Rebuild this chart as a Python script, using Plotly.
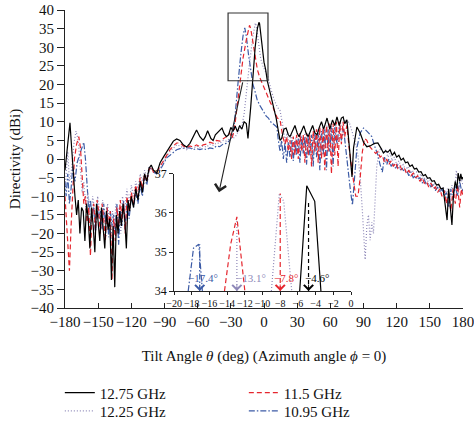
import plotly.graph_objects as go

# ---------------- data ----------------
series_names = ["12.75 GHz", "11.5 GHz", "12.25 GHz", "10.95 GHz"]

theta_1275 = [-180, -179, -177.5, -175.5, -174, -172.5, -171, -169.5, -168, -166.5, -165, -163.5, -162, -160.5,
              -159, -157.5, -156, -154.5, -153, -151.5, -150, -148.5, -147, -145.5, -144, -142.5, -141, -139.5,
              -138, -136.5, -135, -133.5, -132, -130.5, -129, -127.5, -126, -124.5, -123, -121.5, -120, -118,
              -116, -114, -112, -110, -108, -106, -104, -102, -100, -97, -94, -91, -88, -85, -82, -79, -76, -73,
              -70, -67, -64, -61, -58, -55, -53, -51, -48, -46, -44, -41, -38, -36, -34, -32, -30, -28, -26, -24,
              -22, -20, -18, -16, -14.5, -12, -10, -8, -6, -4.6, -4, -3, -1.5, 0, 1.5, 3, 5, 7, 9, 11, 13, 14.5,
              16, 18, 20, 22, 23.5, 25.5, 28, 30, 31.7, 34, 36, 38, 40, 42, 44, 46, 48, 50, 52, 54, 57, 59.5, 62,
              64, 66, 68, 70, 71.6, 73, 75, 77, 79.6, 81, 84, 87, 90, 93, 96, 100, 103, 106, 108, 110, 112, 114,
              116, 118, 120, 122, 124, 126, 128, 130, 132, 134, 136, 138, 140, 142, 144, 146, 148, 150, 152, 154,
              156, 158, 160, 162, 164, 165.6, 167, 168.5, 170, 171.5, 173, 174.5, 175.6, 177, 178, 179, 180]
dir_1275 = [-3, 0, 4, 9.7, 3, -5, -10, -15, -11, -20, -13, -14, -22, -12,
            -16, -24, -13, -18, -25, -12, -17, -22, -13, -20, -24, -14, -19, -16,
            -32.5, -18, -34.4, -15, -20, -14, -18, -12, -16, -24, -11, -14, -10, -13,
            -8, -11, -6, -9, -4, -6, -2.5, -1.6, -3, -3.8, -1, 0.5, 2, 3.2, 4.8, 5.4, 5, 3.8,
            3.2, 4.2, 5.8, 7.8, 6, 5, 6, 7.6, 5.5, 5, 6.5, 7.5, 8.3, 6.8, 6, 6.5, 8.5, 7.5, 8.8, 7.3,
            9, 8, 10, 9.5, 5.5, 14, 22, 30, 35, 36.7, 36.3, 34, 29, 26, 24, 21, 18.5, 16, 14, 11, 7.5, 5,
            5.5, 8, 8.3, 6.5, 6, 7.5, 9, 7, 6, 7.5, 8.9, 7, 6, 7.5, 9, 7, 6.5, 8.5, 10, 8, 11, 8, 10.5,
            9, 11.3, 9, 11, 11.3, 9.5, 10.5, 4, -4.8, 3, 8.6, 7, 4.5, 3.3, 3.5, 4.2, 4.3, 2.8, 1.6, 2.2, 1.8, 2.5,
            1, 1.8, 0.5, 1, -0.3, 0.2, -1, -0.8, -2, -1.6, -2.7, -2.5, -3.5, -3.4, -4.5, -4.2, -5.2, -5, -6, -5.8,
            -7, -6.8, -8, -7.8, -12, -16.4, -8, -12, -17.7, -9, -6, -8, -3.8, -6, -4, -5.5, -4.8]

theta_1150 = [-180, -179, -177.5, -176, -174.5, -173, -171.5, -169.5, -167.5, -166, -164.5, -163, -161.5, -160,
              -158.5, -157, -155.5, -154, -152.5, -151, -149.5, -148, -146.5, -145, -143.5, -142, -140.5, -139,
              -137.5, -136, -134.5, -133, -131.5, -130, -128.5, -127, -125.5, -124, -122, -120, -118, -116, -114,
              -112, -110, -108, -106, -104, -102, -100, -97, -94, -91, -88, -85, -82, -79, -76, -73, -70, -67,
              -64, -61, -58, -55, -52, -49, -46, -43, -40, -37, -34, -31, -29, -27, -25, -22, -19, -16, -14,
              -13.1, -12, -10, -8, -6, -4, -2, 0, 2, 4, 6, 8, 10, 12, 14.5, 16, 17, 19, 20.5, 22, 23.5, 25,
              26.5, 28, 29.5, 31, 32.5, 34, 35.5, 37, 38.5, 40, 41.5, 43, 44.5, 46, 47.5, 49, 50.5, 52, 53.5,
              55, 56.5, 58, 59.5, 61, 62.5, 64, 65.5, 67, 68.5, 70, 71.5, 73, 75, 77, 79, 81, 83, 85, 87, 89,
              91, 93, 95, 98, 101, 103, 105, 107, 109, 111, 113, 115, 117, 119, 121, 123, 125, 127, 129, 131,
              133, 135, 137, 139, 141, 143, 145, 147, 149, 151, 153, 155, 157, 159, 161, 163, 165, 167, 169,
              171, 173, 175, 177, 178.5, 180]
dir_1150 = [-10, -16, -25, -30, -18, -8, 0, 4, 6, 3, -6, -12, -10, -17,
            -13, -26, -14, -12, -19, -11, -14, -20, -12, -16, -22, -13, -18, -14,
            -32.5, -16, -22, -13, -18, -11, -16, -12, -20, -10, -14, -9, -12, -7, -10,
            -5, -8, -4, -6, -2.8, -2, -3.5, -3.5, -2, -0.5, 1, 2.5, 3.5, 4.3, 4.3, 3.5, 3, 3.5,
            3.2, 3.8, 3.3, 3.8, 4, 4.5, 4.2, 5, 4.8, 5.5, 6, 7, 5.5, 7.5, 12, 20, 27, 32, 35.3,
            35.9, 35, 31, 27, 24, 22, 20.5, 19.5, 18, 16.5, 15, 14, 12.5, 11, 10.5, 8, 6, 4, 6, 2, 5, 0,
            6, 1, 6.5, 0, 7, 2, 6.5, -1, 7, 1, 6.5, -2, 7.5, 2, 8, -1, 8.5, 0, 8.5,
            -3, 9, 2, 9.5, -4, 9.5, 1, 10, -2, 10, 4, 10, 6, 9, 3, -2, -6, -10, -10, -5, 2,
            5.5, 5, 3.5, 2.4, 1.5, 2, 0.5, 1, -1, 0, -1.5, -0.5, -2, -1, -2.5, -1.8, -3, -2.5, -4, -3,
            -4.5, -3.8, -5, -4.5, -6, -5, -6.5, -6, -7.5, -6.5, -8, -7.5, -9, -8, -10, -8.5, -12, -9, -14,
            -8, -12, -7, -13, -8, -10]

theta_1225 = [-180, -179, -177.5, -176, -174.5, -172, -170, -168, -166, -164.5, -163, -161, -159.5, -158,
              -156.5, -155, -153.5, -152, -150.5, -149, -147.5, -146, -144.5, -143, -141.5, -140, -138.5, -137,
              -135.5, -134, -132.5, -131, -129.5, -128, -126, -124, -122, -120, -118, -116, -114, -112, -110,
              -108, -106, -104, -102, -100, -97, -94, -91, -88, -85, -82, -79, -76, -73, -70, -67, -64, -61,
              -58, -55, -52, -49, -46, -43, -40, -37, -34, -31, -28, -26, -24, -22, -20, -18, -16, -13, -10,
              -8.5, -7.8, -7, -5, -3, -1, 1, 3.6, 6, 9, 12, 14.5, 17, 19, 21, 23, 25, 27, 29, 31, 33, 35, 37,
              39, 41, 43, 45, 47, 49, 51, 53, 55, 57, 59, 61, 63, 65, 67, 69, 71, 73, 75, 77, 79, 81, 83, 85,
              87, 89, 90.5, 91.5, 93, 94.5, 96, 97.5, 99, 100.5, 102, 104, 106, 108, 110, 112, 114, 116, 118,
              120, 122, 124, 126, 128, 130, 132, 134, 136, 138, 140, 142, 144, 146, 148, 150, 152, 154, 156,
              158, 160, 162, 164, 166, 168, 170, 172, 174, 176, 178, 180]
dir_1225 = [-8, -3, 2, -6, -4, 4, 7.5, 5, -2, -9, -6, -14, -9, -12,
            -18, -10, -13, -19, -10, -13, -18, -11, -15, -21, -12, -16, -22, -14,
            -19, -12, -17, -13, -20, -10, -14, -8, -12, -7, -10, -6, -8, -4, -6,
            -3, -5, -2, -2, -3, -3.5, -2.5, -1, 0.8, 2, 3, 3.8, 3.5, 3, 2.5, 3, 2.8, 3.5,
            3, 3.5, 3.2, 4, 3.7, 4.3, 4.2, 5, 4.8, 5.5, 5.5, 6, 7, 8, 9, 12, 18, 26, 33,
            36, 36.5, 35.8, 31, 27, 25, 23.5, 22, 19, 16, 14, 13, 9, 5, 7, 3, 6.5, 2, 6, 1.5, 6.5, 2, 7,
            2.5, 7, 1.5, 7.5, 2.5, 8, 2, 8.5, 3, 9, 2, 9, 3, 9.5, 4, 10, 7, 10.5, 9.5, 10, 8, 6, 4, 1,
            -5, -14, -22, -27, -18, -15, -21.8, -17, -20, -9, -2, 2, 3, 1.5, 2.5, 0.5, 1.5, -0.5, 0.5,
            -1.5, -0.5, -2, -1.5, -3, -2, -3.5, -3, -4, -3.5, -5, -4, -5.5, -5, -6, -5.5, -7, -6.5, -7.5,
            -7, -8.5, -7.5, -9, -8, -11, -7, -10, -3, -9, -5, -7]

theta_1095 = [-180, -179, -177.5, -176, -174.5, -173, -171, -169, -167, -165, -163, -161.5, -160, -158.5,
              -157, -155.5, -154, -152.5, -151, -149.5, -148, -146.5, -145, -143.5, -142, -140.5, -139, -137.5,
              -136, -134.5, -133, -131.5, -130, -128.5, -127, -125.5, -124, -122, -120, -118, -116, -114, -112,
              -110, -108, -106, -104, -102, -100, -97, -94, -91, -88, -85, -82, -79, -76, -73, -70, -67, -64,
              -61, -58, -55, -52, -49, -46, -43, -40, -37, -34, -31, -29, -27, -26, -23.5, -21, -19, -17.4,
              -16, -14, -12, -10, -8, -6.3, -4, -2, 0, 2, 4, 6, 8, 10, 11.6, 13, 14.5, 16, 17.5, 19, 20.5, 22,
              23.5, 25, 26.5, 28, 29.5, 31, 32.5, 34, 35.5, 37, 38.5, 40, 41.5, 43, 44.5, 46, 47.5, 49, 50.5,
              52, 53.5, 55, 56.5, 58, 59.5, 61, 62.5, 64, 66, 68, 70, 72, 74, 76, 78, 80, 82, 84, 87, 90, 93,
              97.5, 100, 103, 105, 107, 109, 111, 113, 115, 117, 119, 121, 123, 125, 127, 129, 131, 133, 135,
              137, 139, 141, 143, 145, 147, 149, 151, 153, 155, 157, 159, 161, 163, 165, 167, 169, 171, 173,
              175, 177, 179, 180]
dir_1095 = [-6, -10, -4, -12, -8, -2, -6, -1, 1, 3, 4.5, 0, -8, -14,
            -11, -16, -13, -20, -12, -16, -14, -19, -12, -17, -13, -21, -14, -18,
            -15, -20, -12, -23, -14, -18, -11, -19, -12, -16, -10, -13, -9, -12, -7,
            -10, -5, -7, -3, -2.2, -3.5, -4, -3, -1.5, 0.3, 1, 1.8, 2.5, 2.8, 3, 3, 3, 2.5,
            2.8, 2.5, 2.8, 2.5, 3, 2.8, 3.5, 3.3, 4, 4.2, 5, 6, 9, 13, 20.4, 28, 33, 35.2,
            33, 28, 24, 20, 18, 16, 14.5, 13.5, 12.5, 11.5, 11, 10, 9.5, 9, 8.6, 5, 2, 5, 0, 4.5, -1, 4.5,
            0.5, 5, -0.5, 5, 1, 5.5, -1, 6, 1.5, 6, -1.5, 6.5, 1, 6.5, -2, 7, 0.5, 7, -3,
            7.5, 1, 8, -3, 8, 2, 8.5, -2, 8.5, 4, 8.5, 5, 8, 2, -2, -8, -12.4, -5, 3, 7, 8.3, 7.5,
            6, 3.5, 1, -1.5, -3.5, 0.5, -1.5, 0, -2, -1, -2.5, -1.5, -3, -2.5, -3.5, -3, -4.5, -3.5, -5,
            -4.5, -5.5, -5, -6.5, -5.5, -7, -6.5, -7.5, -7, -8.5, -7.5, -9, -8, -10, -9, -13, -8, -11, -7,
            -10, -6, -9, -8]

# inset (zoom of the main-beam peaks)
inset_theta_1275 = [-5.8, -5.0, -4.1, -3.4]
inset_dir_1275 = [34.0, 36.7, 36.3, 34.0]
inset_theta_1150 = [-14.3, -13.6, -12.9, -12.0]
inset_dir_1150 = [34.0, 35.2, 35.9, 34.0]
inset_theta_1225 = [-9.0, -8.1, -7.6, -6.7]
inset_dir_1225 = [34.0, 36.5, 36.3, 34.0]
inset_theta_1095 = [-18.4, -17.8, -17.2, -16.8]
inset_dir_1095 = [34.0, 35.1, 35.2, 34.0]

peak_theta = [-4.8, -8.0, -12.9, -17.1]
peak_level = [36.3, 36.5, 35.8, 35.2]
peak_labels = ["−4.6°", "−7.8°", "−13.1°", "−17.4°"]
label_theta = [-3.8, -7.3, -11.3, -16.7]

x_ticks = [-180, -150, -120, -90, -60, -30, 0, 30, 60, 90, 120, 150, 180]
y_ticks = list(range(-40, 41, 5))
inset_x_ticks = list(range(-20, 1, 2))
inset_y_ticks = [34, 35, 36, 37]

# ---------------- styles ----------------
colors = ["#000000", "#e5262e", "#8e88b8", "#3c5ba6"]
dashes = ["solid", "5px,3px", "1px,2px", "6px,2px,1.5px,2px"]
legend_ids = ["legend", "legend", "legend2", "legend2"]
FONT = "Liberation Serif, Times New Roman, serif"

main_data = [(theta_1275, dir_1275), (theta_1150, dir_1150), (theta_1225, dir_1225), (theta_1095, dir_1095)]
inset_data = [(inset_theta_1275, inset_dir_1275), (inset_theta_1150, inset_dir_1150),
              (inset_theta_1225, inset_dir_1225), (inset_theta_1095, inset_dir_1095)]

fig = go.Figure()
draw_order = [3, 2, 1, 0]
for i in draw_order:
    th, d = main_data[i]
    fig.add_trace(go.Scatter(x=th, y=d, mode="lines", name=series_names[i], legendrank=i + 1,
                             legend=legend_ids[i],
                             line=dict(color=colors[i], width=1.2, dash=dashes[i])))
for i in draw_order:
    th, d = inset_data[i]
    fig.add_trace(go.Scatter(x=th, y=d, mode="lines", showlegend=False, xaxis="x2", yaxis="y2",
                             line=dict(color=colors[i], width=1.2, dash=dashes[i])))
    vdash = "4px,3px" if i == 0 else dashes[i]
    fig.add_trace(go.Scatter(x=[peak_theta[i], peak_theta[i]], y=[34, peak_level[i]], mode="lines",
                             showlegend=False, xaxis="x2", yaxis="y2",
                             line=dict(color=colors[i], width=1.2, dash=vdash)))

annotations = []
for i in range(4):
    annotations.append(dict(x=peak_theta[i], y=34, xref="x2", yref="y2", text="", showarrow=True,
                            ax=0, ay=-8, arrowhead=4, arrowsize=2.0, arrowwidth=0.9, arrowcolor=colors[i]))
    annotations.append(dict(x=label_theta[i], y=34.33, xref="x2", yref="y2", text=peak_labels[i],
                            showarrow=False, font=dict(family=FONT, size=11, color=colors[i])))
annotations.append(dict(x=-40.7, y=-8.9, xref="x", yref="y", ax=-19, ay=21, axref="x", ayref="y",
                        text="", showarrow=True, arrowhead=4, arrowsize=2.0, arrowwidth=1.1,
                        arrowcolor="#222222"))

legend_common = dict(orientation="h", xanchor="left", yanchor="middle",
                     entrywidth=139, entrywidthmode="pixels", font=dict(family=FONT, size=15),
                     bgcolor="rgba(0,0,0,0)", itemwidth=30, traceorder="normal")

fig.update_layout(
    width=474, height=422, autosize=False,
    margin=dict(l=65, r=11, t=10, b=114, autoexpand=False),
    paper_bgcolor="white", plot_bgcolor="rgba(0,0,0,0)",
    font=dict(family=FONT, size=15, color="#111111"),
    showlegend=True,
    legend=dict(x=-0.013, y=-0.285, **legend_common),
    legend2=dict(x=-0.013, y=-0.346, **legend_common),
    xaxis=dict(range=[-180, 180], tickvals=x_ticks, ticks="inside", ticklen=5, tickwidth=1, tickangle=0,
               ticklabeloverflow="allow",
               tickcolor="#222", showline=True, linecolor="#222", linewidth=1, showgrid=False,
               zeroline=False, tickfont=dict(size=15),
               title=dict(text="Tilt Angle <i>θ</i> (deg) (Azimuth angle <i>ϕ</i> = 0)",
                          font=dict(size=15), standoff=21)),
    yaxis=dict(range=[-40, 40], tickvals=y_ticks, ticks="outside", ticklen=7, tickwidth=1,
               tickcolor="#222", showline=True, linecolor="#222", linewidth=1, showgrid=False,
               zeroline=False, tickfont=dict(size=15),
               title=dict(text="Directivity (dBi)", font=dict(size=15), standoff=6)),
    xaxis2=dict(domain=[0.274, 0.7186], anchor="y2", range=[-20, 0], tickvals=inset_x_ticks,
                ticks="outside", ticklen=3, tickwidth=1, tickangle=0, tickcolor="#222", showline=True,
                linecolor="#222", linewidth=1, showgrid=False, zeroline=False,
                tickfont=dict(size=10)),
    yaxis2=dict(domain=[0.057, 0.4497], anchor="x2", range=[34, 37], tickvals=inset_y_ticks,
                ticks="outside", ticklen=4, tickwidth=1, tickcolor="#222", showline=True,
                linecolor="#222", linewidth=1, showgrid=False, zeroline=False,
                tickfont=dict(size=12)),
    shapes=[dict(type="rect", xref="x", yref="y", x0=-32.5, x1=3.6, y0=21, y1=39.2,
                 line=dict(color="#333333", width=1.2))],
    annotations=annotations,
)

fig.write_html("out.html")
